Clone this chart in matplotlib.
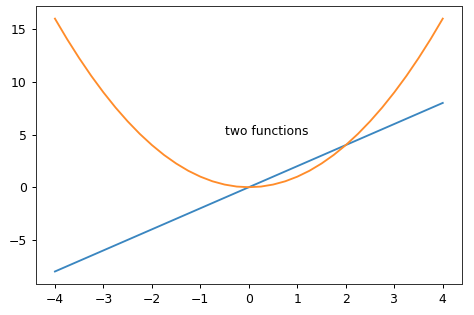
import matplotlib
matplotlib.use("Agg")
import matplotlib.pyplot as plt

# values
x = [-4.0, -3.75, -3.5, -3.25, -3.0, -2.75, -2.5, -2.25, -2.0, -1.75, -1.5, -1.25,
     -1.0, -0.75, -0.5, -0.25, 0.0, 0.25, 0.5, 0.75, 1.0, 1.25, 1.5, 1.75,
     2.0, 2.25, 2.5, 2.75, 3.0, 3.25, 3.5, 3.75, 4.0]
line_y = [-8.0, -7.5, -7.0, -6.5, -6.0, -5.5, -5.0, -4.5, -4.0, -3.5, -3.0, -2.5,
          -2.0, -1.5, -1.0, -0.5, 0.0, 0.5, 1.0, 1.5, 2.0, 2.5, 3.0, 3.5,
          4.0, 4.5, 5.0, 5.5, 6.0, 6.5, 7.0, 7.5, 8.0]
curve_y = [16.0, 14.06, 12.25, 10.56, 9.0, 7.56, 6.25, 5.06, 4.0, 3.06, 2.25, 1.56,
           1.0, 0.56, 0.25, 0.06, 0.0, 0.06, 0.25, 0.56, 1.0, 1.56, 2.25, 3.06,
           4.0, 5.06, 6.25, 7.56, 9.0, 10.56, 12.25, 14.06, 16.0]
label_x, label_y = -0.5, 5
label = "two functions"

# reference looks like a 72-dpi notebook figure scaled up ~1.23x
DPI = 89
fig = plt.figure(figsize=(474 / DPI, 315 / DPI), dpi=DPI)
ax = fig.add_axes([0.075, 0.098, 0.90, 0.883])
ax.plot(x, line_y, color="#3a86c0")
ax.plot(x, curve_y, color="#ff8c2a")
ax.text(label_x, label_y, label)
for s in ax.spines.values():
    s.set_color("#333333")
fig.savefig("out.png", dpi=DPI)
